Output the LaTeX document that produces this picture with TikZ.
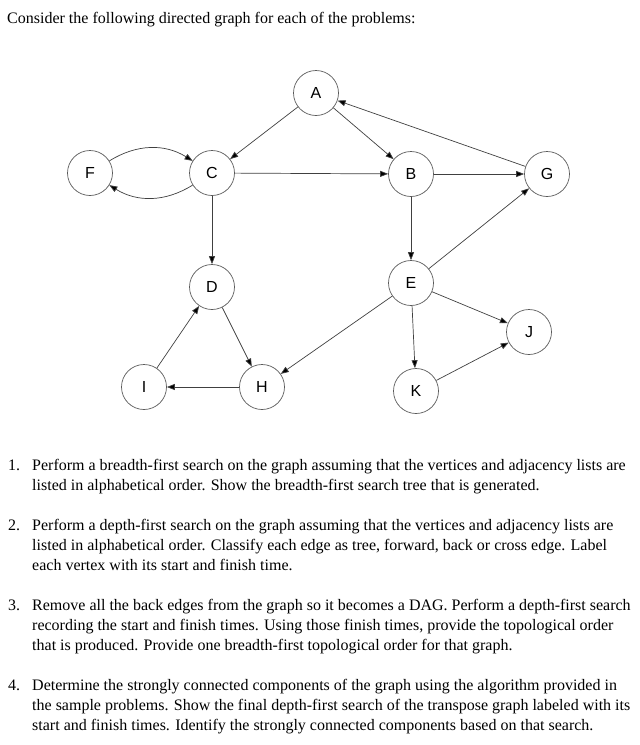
\documentclass[tikz,border=0pt]{standalone}
\usepackage{fontspec}
\setmainfont{Liberation Serif}
\newfontfamily\graphfont{Liberation Sans}
\usetikzlibrary{arrows.meta}
\definecolor{edgegray}{HTML}{404040}
\definecolor{circgray}{HTML}{5A5A5A}
\begin{document}
\begin{tikzpicture}[x=1pt,y=-1pt,
  vtx/.style={circle,draw=circgray,line width=0.7pt,minimum size=45pt,inner sep=0pt,font=\graphfont\fontsize{16}{16}\selectfont},
  edge/.style={draw=edgegray,line width=0.7pt,-{Triangle[length=8pt,width=6pt,fill=black]}},
  txt/.style={anchor=base west,inner sep=0pt,font=\fontsize{16}{20}\selectfont}]
\useasboundingbox (0,0) rectangle (640,745);
% title
\node[txt] (title) at (7,23) {Consider the following directed graph for each of the problems:};
% vertices
\node[vtx] (A) at (316,93) {A};
\node[vtx] (F) at (90,173) {F};
\node[vtx] (C) at (212,173) {C};
\node[vtx] (B) at (411,174) {B};
\node[vtx] (G) at (547,174) {G};
\node[vtx] (D) at (212,287) {D};
\node[vtx] (E) at (411,283) {E};
\node[vtx] (J) at (529,332) {J};
\node[vtx] (I) at (144,387) {I};
\node[vtx] (H) at (262,387) {H};
\node[vtx] (K) at (416,391) {K};
% edges
\draw[edge] (A) -- (C);
\draw[edge] (A) -- (B);
\draw[edge] (G) -- (A);
\draw[edge] (F) to[bend left=32] (C);
\draw[edge] (C) to[bend left=32] (F);
\draw[edge] (C) -- (B);
\draw[edge] (B) -- (G);
\draw[edge] (C) -- (D);
\draw[edge] (B) -- (E);
\draw[edge] (E) -- (G);
\draw[edge] (E) -- (H);
\draw[edge] (E) -- (J);
\draw[edge] (E) -- (K);
\draw[edge] (K) -- (J);
\draw[edge] (D) -- (H);
\draw[edge] (H) -- (I);
\draw[edge] (I) -- (D);
% questions
\node[txt] (n1) at (8,470) {1.};
\node[txt] (q1a) at (32,470) {Perform a breadth-first search on the graph assuming that the vertices and adjacency lists are};
\node[txt] (q1b) at (32,490) {listed in alphabetical order. Show the breadth-first search tree that is generated.};
\node[txt] (n2) at (8,530) {2.};
\node[txt] (q2a) at (32,530) {Perform a depth-first search on the graph assuming that the vertices and adjacency lists are};
\node[txt] (q2b) at (32,550) {listed in alphabetical order. Classify each edge as tree, forward, back or cross edge. Label};
\node[txt] (q2c) at (32,570) {each vertex with its start and finish time.};
\node[txt] (n3) at (8,610) {3.};
\node[txt] (q3a) at (32,610) {Remove all the back edges from the graph so it becomes a DAG. Perform a depth-first search};
\node[txt] (q3b) at (32,630) {recording the start and finish times. Using those finish times, provide the topological order};
\node[txt] (q3c) at (32,650) {that is produced. Provide one breadth-first topological order for that graph.};
\node[txt] (n4) at (8,690) {4.};
\node[txt] (q4a) at (32,690) {Determine the strongly connected components of the graph using the algorithm provided in};
\node[txt] (q4b) at (32,710) {the sample problems. Show the final depth-first search of the transpose graph labeled with its};
\node[txt] (q4c) at (32,730) {start and finish times. Identify the strongly connected components based on that search.};
\end{tikzpicture}
\end{document}
